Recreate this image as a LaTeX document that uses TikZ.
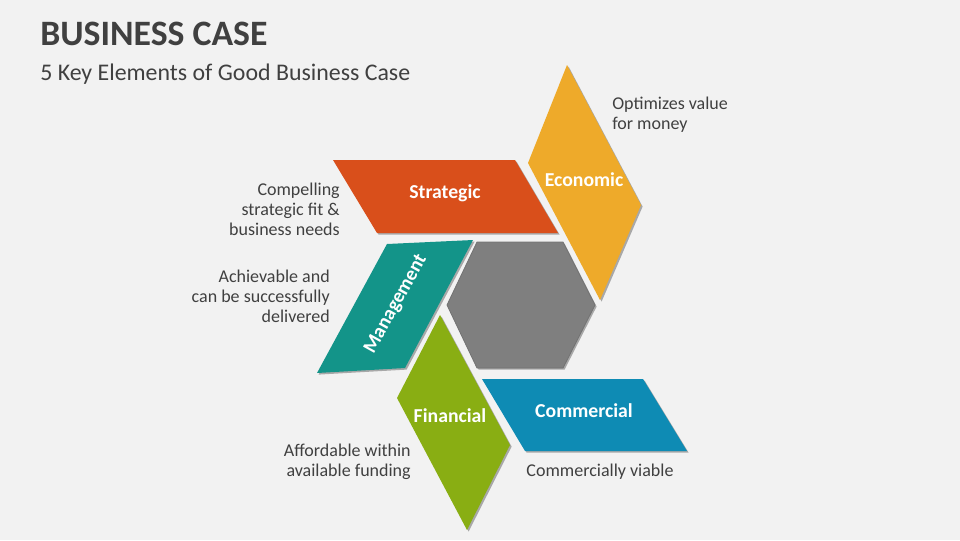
\documentclass[tikz,border=0pt]{standalone}
\usepackage{fontspec}
\setmainfont{Carlito}
\usetikzlibrary{shadows}
\definecolor{bg}{HTML}{F2F2F2}
\definecolor{txt}{HTML}{404040}
\definecolor{cStrat}{HTML}{D94F1B}
\definecolor{cEcon}{HTML}{EEAA2A}
\definecolor{cMgmt}{HTML}{139489}
\definecolor{cHex}{HTML}{7F7F7F}
\definecolor{cFin}{HTML}{89AE13}
\definecolor{cComm}{HTML}{0E8BB4}
\tikzset{
  piece/.style={draw=none, drop shadow={shadow xshift=1.2pt, shadow yshift=-1.2pt, opacity=0.3, fill=black}},
  lbl/.style={text=white, font=\fontsize{14.8}{17}\selectfont\bfseries, inner sep=0pt},
  desc/.style={text=txt, font=\fontsize{13.5}{15}\selectfont, inner sep=0pt},
}
\begin{document}
\begin{tikzpicture}[x=0.75pt, y=-0.75pt]
\fill[bg] (0,0) rectangle (960,540);
\useasboundingbox (0,0) rectangle (960,540);
% title
\node[anchor=base west, inner sep=0pt, text=txt, font=\fontsize{26.8}{31}\selectfont\bfseries] (title) at (40,45) {BUSINESS CASE};
\node[anchor=base west, inner sep=0pt, text=txt, font=\fontsize{17.9}{21}\selectfont] (subtitle) at (40,80) {5 Key Elements of Good Business Case};
% shapes
\fill[cEcon, piece] (567,65) -- (641,205) -- (600,300) -- (528,163) -- cycle;
\fill[cStrat, piece] (333,160) -- (515,160) -- (558,233) -- (377,233) -- cycle;
\fill[cMgmt, piece] (387,244) -- (473,240) -- (405,368) -- (317,373) -- cycle;
\fill[cHex, piece, draw=black!55, line width=0.6pt] (477,242) -- (563,242) -- (595,305) -- (563,368) -- (477,368) -- (447,305) -- cycle;
\fill[cFin, piece] (440,315) -- (510,445) -- (467,530) -- (397,398) -- cycle;
\fill[cComm, piece] (482,379) -- (643,379) -- (687,451) -- (525,451) -- cycle;
% labels
\node[lbl] (strategic) at (445,193) {Strategic};
\node[lbl] (economic) at (584,180) {Economic};
\node[lbl, rotate=61] (management) at (396,304) {Management};
\node[lbl] (financial) at (450,416) {Financial};
\node[lbl] (commercial) at (584,411) {Commercial};
% descriptions
\node[desc, anchor=west, align=left] (dEcon) at (612,115) {Optimizes value\\for money};
\node[desc, anchor=east, align=right] (dStrat) at (340,209) {Compelling\\strategic fit \&\\business needs};
\node[desc, anchor=east, align=right] (dMgmt) at (330,296) {Achievable and\\can be successfully\\delivered};
\node[desc, anchor=east, align=right] (dFin) at (411,462) {Affordable within\\available funding};
\node[desc] (dComm) at (600,472) {Commercially viable};
\end{tikzpicture}
\end{document}
